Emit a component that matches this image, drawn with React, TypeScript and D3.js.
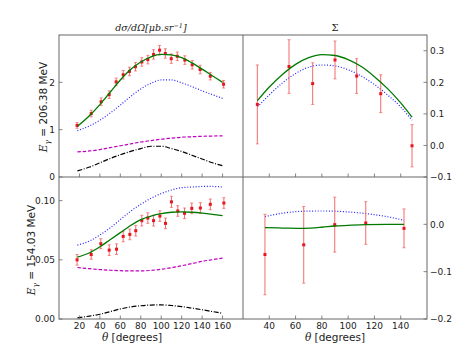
import React from "react";
import * as d3 from "d3";

// ---------- data ----------
// top-left: dσ/dΩ at 206.38 MeV
const thetaTL = [17.7, 31.5, 41.2, 49.1, 55.9, 62.8, 68.9, 74.8, 81, 86.9, 92.5, 98.4, 104, 109.8, 115.7, 123.1, 130.3, 138.1, 148, 161];
const xsTL = [1.09, 1.34, 1.59, 1.74, 2.01, 2.16, 2.23, 2.33, 2.43, 2.48, 2.59, 2.68, 2.61, 2.5, 2.55, 2.47, 2.37, 2.27, 2.13, 1.96];
const errTL = [0.06, 0.07, 0.08, 0.08, 0.08, 0.09, 0.09, 0.09, 0.09, 0.09, 0.1, 0.1, 0.1, 0.1, 0.09, 0.09, 0.09, 0.09, 0.08, 0.08];
const thetaCurveL = [18, 30, 40, 50, 60, 70, 80, 90, 100, 110, 120, 130, 140, 150, 160];
const greenTL = [1.07, 1.3, 1.53, 1.79, 2.05, 2.27, 2.43, 2.54, 2.59, 2.58, 2.52, 2.41, 2.28, 2.14, 2.0];
const blueTL = [0.98, 1.08, 1.2, 1.35, 1.52, 1.7, 1.86, 1.98, 2.05, 2.05, 1.99, 1.91, 1.82, 1.74, 1.66];
const magentaTL = [0.53, 0.55, 0.58, 0.62, 0.66, 0.7, 0.74, 0.77, 0.8, 0.82, 0.84, 0.85, 0.86, 0.865, 0.87];
const blackTL = [0.13, 0.21, 0.3, 0.39, 0.47, 0.54, 0.6, 0.65, 0.65, 0.6, 0.54, 0.46, 0.38, 0.3, 0.24];

// top-right: Σ at 206.38 MeV
const thetaTR = [30.9, 55, 73, 90, 106.5, 124.8, 148.6];
const sigTR = [0.13, 0.25, 0.196, 0.271, 0.22, 0.164, -0.001];
const errTR = [0.125, 0.085, 0.066, 0.06, 0.055, 0.06, 0.067];
const thetaCurveR = [31, 40, 50, 60, 70, 80, 90, 100, 110, 120, 130, 140, 148.6];
const greenTR = [0.142, 0.185, 0.225, 0.257, 0.278, 0.288, 0.285, 0.272, 0.25, 0.218, 0.18, 0.135, 0.09];
const blueTR = [0.122, 0.16, 0.198, 0.228, 0.248, 0.255, 0.252, 0.24, 0.22, 0.193, 0.16, 0.122, 0.08];

// bottom-left: dσ/dΩ at 154.03 MeV
const thetaBL = [17.7, 31.5, 40.9, 49.1, 56.3, 62.8, 69.3, 75.1, 81, 86.9, 92.5, 98.7, 104.2, 110, 116.2, 122.8, 129.9, 138.3, 148, 161.3];
const xsBL = [0.05, 0.0545, 0.0636, 0.0582, 0.059, 0.0698, 0.0715, 0.0746, 0.0831, 0.0853, 0.0831, 0.087, 0.0808, 0.099, 0.0913, 0.0893, 0.0935, 0.0938, 0.0969, 0.098];
const errBL = [0.0045, 0.004, 0.0042, 0.0045, 0.0045, 0.0045, 0.0045, 0.0045, 0.0045, 0.0045, 0.0045, 0.0045, 0.0045, 0.0047, 0.0045, 0.0045, 0.0045, 0.0045, 0.0045, 0.0045];
const greenBL = [0.0523, 0.056, 0.061, 0.067, 0.073, 0.079, 0.084, 0.087, 0.089, 0.0902, 0.0905, 0.0902, 0.0895, 0.0885, 0.0873];
const blueBL = [0.0624, 0.066, 0.071, 0.077, 0.084, 0.091, 0.097, 0.102, 0.106, 0.109, 0.111, 0.1115, 0.112, 0.112, 0.1115];
const magentaBL = [0.0435, 0.0425, 0.0418, 0.0412, 0.0408, 0.0406, 0.0406, 0.0411, 0.042, 0.0433, 0.045, 0.0468, 0.0487, 0.0501, 0.0514];
const blackBL = [0.001, 0.0025, 0.004, 0.0062, 0.0085, 0.0102, 0.0112, 0.0118, 0.0119, 0.0114, 0.0105, 0.0092, 0.0078, 0.0063, 0.0048];

// bottom-right: Σ at 154.03 MeV
const thetaBR = [36.7, 66.2, 89.8, 113.4, 142.5];
const sigBR = [-0.0638, -0.0433, -0.0007, 0.0028, -0.0085];
const errBR = [0.085, 0.081, 0.058, 0.045, 0.041];
const thetaCurveBR = [36.7, 50, 66.2, 80, 89.8, 100, 113.4, 130, 142.5];
const greenBR = [-0.0071, -0.0078, -0.0085, -0.0062, -0.0035, -0.0022, -0.0007, 0.0, 0.0];
const blueBR = [0.0163, 0.0235, 0.0277, 0.0282, 0.0277, 0.0262, 0.0227, 0.016, 0.0085];

const ticksXL = [20, 40, 60, 80, 100, 120, 140, 160];
const ticksXR = [40, 60, 80, 100, 120, 140];
const ticksYTL = [0, 1, 2];
const ticksYTR = [-0.1, 0.0, 0.1, 0.2, 0.3];
const ticksYBL = [0.0, 0.05, 0.1];
const ticksYBR = [-0.2, -0.1, 0.0];

// ---------- layout ----------
const L0 = 59, L1 = 243, R1 = 427;
const T0 = 35, M = 177, B1 = 319;
const AX = "#666";
const SANS = "DejaVu Sans, sans-serif";
const SERIF = "DejaVu Serif, serif";
const ERR = "#f26b6b";

const xL = d3.scaleLinear().domain([0, 180]).range([L0, L1]);
const xR = d3.scaleLinear().domain([20, 160]).range([L1, R1]);
const yTL = d3.scaleLinear().domain([0, 3]).range([M, T0]);
const yTR = d3.scaleLinear().domain([-0.1, 0.35]).range([M, T0]);
const yBL = d3.scaleLinear().domain([0, 0.12]).range([B1, M]);
const yBR = d3.scaleLinear().domain([-0.2, 0.1]).range([B1, M]);

const minus = (s: string) => s.replace("-", "\u2212");

type Sc = d3.ScaleLinear<number, number>;

function Curve({ xs, ys, x, y, color, dash, width = 1.2 }: { xs: number[]; ys: number[]; x: Sc; y: Sc; color: string; dash?: string; width?: number }) {
  const gen = d3
    .line<number>()
    .x((_, i) => x(xs[i]))
    .y((d) => y(d))
    .curve(d3.curveMonotoneX);
  return <path d={gen(ys) || ""} fill="none" stroke={color} strokeWidth={width} strokeDasharray={dash} />;
}

function Points({ xs, ys, es, x, y }: { xs: number[]; ys: number[]; es: number[]; x: Sc; y: Sc }) {
  return (
    <g>
      {xs.map((t, i) => {
        const cx = x(t);
        const top = y(ys[i] + es[i]);
        const bot = y(ys[i] - es[i]);
        return (
          <g key={i}>
            <line x1={cx} x2={cx} y1={top} y2={bot} stroke={ERR} strokeWidth={1} />
            <line x1={cx - 1.5} x2={cx + 1.5} y1={top} y2={top} stroke={ERR} strokeWidth={0.8} />
            <line x1={cx - 1.5} x2={cx + 1.5} y1={bot} y2={bot} stroke={ERR} strokeWidth={0.8} />
            <rect x={cx - 1.5} y={y(ys[i]) - 1.5} width={3} height={3} fill="#e8141e" />
          </g>
        );
      })}
    </g>
  );
}

function XTicks({ ticks, x, y0, labels }: { ticks: number[]; x: Sc; y0: number; labels: boolean }) {
  return (
    <g>
      {ticks.map((t) => (
        <g key={t}>
          <line x1={x(t)} x2={x(t)} y1={y0} y2={y0 - 3.5} stroke={AX} strokeWidth={0.8} />
          {labels && (
            <text x={x(t)} y={y0 + 9.5} textAnchor="middle" fontFamily={SANS} fontSize={9} fill="#222">
              {t}
            </text>
          )}
        </g>
      ))}
    </g>
  );
}

function YTicks({ ticks, y, side, fmt }: { ticks: number[]; y: Sc; side: "left" | "right"; fmt: (v: number) => string }) {
  const x0 = side === "left" ? L0 : R1;
  const dir = side === "left" ? 1 : -1;
  return (
    <g>
      {ticks.map((t) => (
        <g key={t}>
          <line x1={x0} x2={x0 + dir * 3.5} y1={y(t)} y2={y(t)} stroke={AX} strokeWidth={0.8} />
          <text
            x={side === "left" ? x0 - 4 : x0 + 3}
            y={y(t) + 3.2}
            textAnchor={side === "left" ? "end" : "start"}
            fontFamily={SANS}
            fontSize={9}
            fill="#222"
          >
            {minus(fmt(t))}
          </text>
        </g>
      ))}
    </g>
  );
}

export default function App() {
  return (
    <svg width={474} height={355} style={{ position: "absolute", left: 0, top: 0, background: "#fff" }}>
      <rect width={474} height={355} fill="#fff" />

      {/* curves top-left */}
      <Curve xs={thetaCurveL} ys={blackTL} x={xL} y={yTL} color="#000" dash="5,1.6,1,1.6" />
      <Curve xs={thetaCurveL} ys={magentaTL} x={xL} y={yTL} color="#bf00bf" dash="3.5,1.8" />
      <Curve xs={thetaCurveL} ys={blueTL} x={xL} y={yTL} color="#2020ff" dash="1,1.8" />
      <Points xs={thetaTL} ys={xsTL} es={errTL} x={xL} y={yTL} />
      <Curve xs={thetaCurveL} ys={greenTL} x={xL} y={yTL} color="#007a00" width={1.3} />

      {/* top-right */}
      <Curve xs={thetaCurveR} ys={blueTR} x={xR} y={yTR} color="#2020ff" dash="1,1.8" />
      <Points xs={thetaTR} ys={sigTR} es={errTR} x={xR} y={yTR} />
      <Curve xs={thetaCurveR} ys={greenTR} x={xR} y={yTR} color="#007a00" width={1.3} />

      {/* bottom-left */}
      <Curve xs={thetaCurveL} ys={blackBL} x={xL} y={yBL} color="#000" dash="5,1.6,1,1.6" />
      <Curve xs={thetaCurveL} ys={magentaBL} x={xL} y={yBL} color="#bf00bf" dash="3.5,1.8" />
      <Curve xs={thetaCurveL} ys={blueBL} x={xL} y={yBL} color="#2020ff" dash="1,1.8" />
      <Points xs={thetaBL} ys={xsBL} es={errBL} x={xL} y={yBL} />
      <Curve xs={thetaCurveL} ys={greenBL} x={xL} y={yBL} color="#007a00" width={1.3} />

      {/* bottom-right */}
      <Curve xs={thetaCurveBR} ys={blueBR} x={xR} y={yBR} color="#2020ff" dash="1,1.8" />
      <Points xs={thetaBR} ys={sigBR} es={errBR} x={xR} y={yBR} />
      <Curve xs={thetaCurveBR} ys={greenBR} x={xR} y={yBR} color="#007a00" width={1.3} />

      {/* frames */}
      <rect x={L0} y={T0} width={R1 - L0} height={B1 - T0} fill="none" stroke={AX} strokeWidth={1} />
      <line x1={L0} x2={R1} y1={M} y2={M} stroke={AX} strokeWidth={1} />
      <line x1={L1} x2={L1} y1={T0} y2={B1} stroke={AX} strokeWidth={1} />

      {/* ticks */}
      <XTicks ticks={ticksXL} x={xL} y0={M} labels={false} />
      <XTicks ticks={ticksXR} x={xR} y0={M} labels={false} />
      <XTicks ticks={ticksXL} x={xL} y0={B1} labels={true} />
      <XTicks ticks={ticksXR} x={xR} y0={B1} labels={true} />
      <YTicks ticks={ticksYTL} y={yTL} side="left" fmt={(v) => d3.format("d")(v)} />
      <YTicks ticks={ticksYBL} y={yBL} side="left" fmt={(v) => d3.format(".2f")(v)} />
      <YTicks ticks={ticksYTR} y={yTR} side="right" fmt={(v) => d3.format(".1f")(v)} />
      <YTicks ticks={ticksYBR} y={yBR} side="right" fmt={(v) => d3.format(".1f")(v)} />

      {/* titles */}
      <text x={151} y={31} textAnchor="middle" fontFamily={SERIF} fontStyle="italic" fontSize={9.5} fill="#222">
        dσ/dΩ[μb.sr<tspan dy={-3.5} fontSize={6.5}>−1</tspan>
        <tspan dy={3.5}>]</tspan>
      </text>
      <text x={335} y={31} textAnchor="middle" fontFamily={SERIF} fontSize={10} fill="#222">
        Σ
      </text>

      {/* x labels */}
      <text x={132} y={341} textAnchor="middle" fontFamily={SANS} fontSize={10.5} fill="#222">
        <tspan fontFamily={SERIF} fontStyle="italic">θ</tspan> [degrees]
      </text>
      <text x={335} y={341} textAnchor="middle" fontFamily={SANS} fontSize={10.5} fill="#222">
        <tspan fontFamily={SERIF} fontStyle="italic">θ</tspan> [degrees]
      </text>

      {/* y labels */}
      <text transform="translate(47,107) rotate(-90)" textAnchor="middle" fontFamily={SANS} fontSize={10.5} fill="#222">
        <tspan fontFamily={SERIF} fontStyle="italic">E</tspan>
        <tspan fontFamily={SERIF} fontStyle="italic" fontSize={7.5} dy={2.5}>γ</tspan>
        <tspan dy={-2.5} fontFamily={SERIF}> = </tspan>
        <tspan>206.38 MeV</tspan>
      </text>
      <text transform="translate(35,250) rotate(-90)" textAnchor="middle" fontFamily={SANS} fontSize={10.5} fill="#222">
        <tspan fontFamily={SERIF} fontStyle="italic">E</tspan>
        <tspan fontFamily={SERIF} fontStyle="italic" fontSize={7.5} dy={2.5}>γ</tspan>
        <tspan dy={-2.5} fontFamily={SERIF}> = </tspan>
        <tspan>154.03 MeV</tspan>
      </text>
    </svg>
  );
}
